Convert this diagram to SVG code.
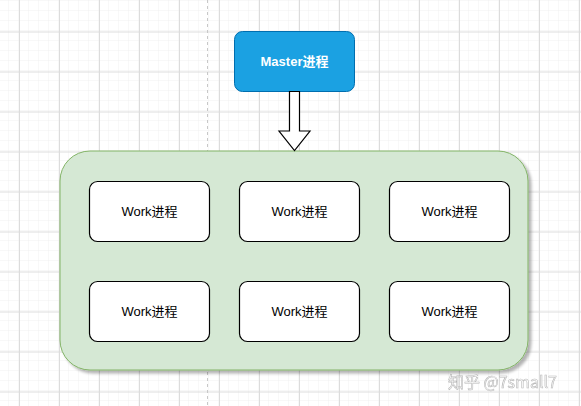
<svg xmlns="http://www.w3.org/2000/svg" width="581" height="406" viewBox="0 0 581 406">
<defs>
<pattern id="minor" x="9" y="1" width="10" height="10" patternUnits="userSpaceOnUse">
<path d="M10 0V10M0 10H10" fill="none" stroke="#f0f0f0" stroke-width="1"/>
</pattern>
<pattern id="major" x="19" y="31.5" width="40" height="40" patternUnits="userSpaceOnUse">
<path d="M0.5 0V40M0 0.5H40" fill="none" stroke="#dcdcdc" stroke-width="1"/>
</pattern>
<filter id="sh" x="-10%" y="-10%" width="120%" height="120%">
<feGaussianBlur in="SourceAlpha" stdDeviation="1.5"/>
<feOffset dx="3" dy="3"/>
<feComponentTransfer><feFuncA type="linear" slope="0.3"/></feComponentTransfer>
<feMerge><feMergeNode/><feMergeNode in="SourceGraphic"/></feMerge>
</filter>
</defs>
<style>
.work rect{fill:#ffffff;stroke:#000000;stroke-width:1.2}
.work text{font-family:"Liberation Sans","Noto Sans CJK SC",sans-serif;font-size:13px;fill:#000;text-anchor:middle}
</style>
<rect width="581" height="406" fill="#ffffff"/>
<rect width="581" height="406" fill="url(#minor)"/>
<rect width="581" height="406" fill="url(#major)"/>
<line x1="207.5" y1="0" x2="207.5" y2="406" stroke="#c8c8c8" stroke-dasharray="3,3"/>
<g id="container">
<rect x="60" y="151" width="468" height="219" rx="30" ry="30" fill="#d5e8d4" stroke="#82b366" stroke-width="1" filter="url(#sh)"/>
</g>
<g id="master">
<rect x="234.5" y="31.5" width="120" height="60" rx="8" ry="8" fill="#1ba1e2" stroke="#006eaf" stroke-width="1"/>
<text x="294.5" y="66" font-family="Liberation Sans,'Noto Sans CJK SC',sans-serif" font-size="13" font-weight="bold" fill="#ffffff" text-anchor="middle">Master进程</text>
</g>
<g id="connectors">
<path d="M289.5 91.5H299.5V131H310L294.5 150.5L279 131H289.5Z" fill="#ffffff" stroke="#000000" stroke-width="1.2" stroke-linejoin="miter"/>
</g>
<g id="w1" class="work"><rect x="89.5" y="181.5" width="120" height="60" rx="8"/><text x="149.5" y="216">Work进程</text></g>
<g id="w2" class="work"><rect x="239.5" y="181.5" width="120" height="60" rx="8"/><text x="299.5" y="216">Work进程</text></g>
<g id="w3" class="work"><rect x="389.5" y="181.5" width="120" height="60" rx="8"/><text x="449.5" y="216">Work进程</text></g>
<g id="w4" class="work"><rect x="89.5" y="281.5" width="120" height="60" rx="8"/><text x="149.5" y="316">Work进程</text></g>
<g id="w5" class="work"><rect x="239.5" y="281.5" width="120" height="60" rx="8"/><text x="299.5" y="316">Work进程</text></g>
<g id="w6" class="work"><rect x="389.5" y="281.5" width="120" height="60" rx="8"/><text x="449.5" y="316">Work进程</text></g>
<text x="448" y="388" font-family="'Noto Sans CJK SC',sans-serif" font-size="16" fill="#ffffff" stroke="#b0b0b0" stroke-width="0.6" opacity="0.9">知乎 @7small7</text>
</svg>
